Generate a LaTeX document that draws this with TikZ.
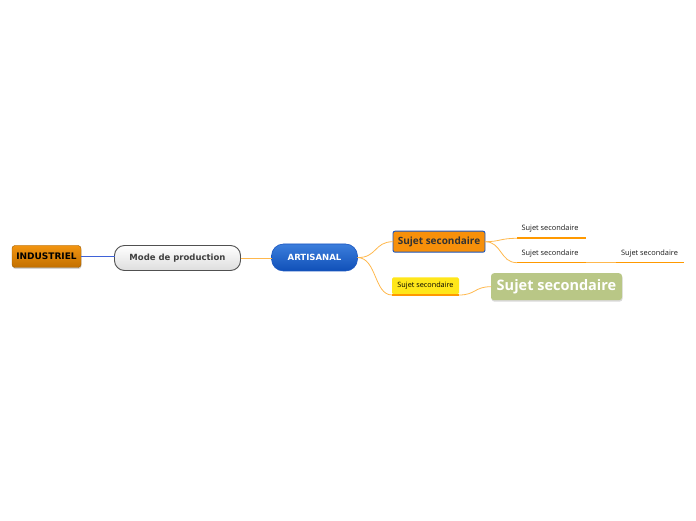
\documentclass[tikz,border=0pt]{standalone}
\usepackage{fontspec}
\newfontfamily\dvb{DejaVu Sans}
\newfontfamily\ops{Open Sans}
\usetikzlibrary{shadows}
\definecolor{linkor}{HTML}{FFB84D}
\definecolor{ulor}{HTML}{FF9900}
\definecolor{indtop}{HTML}{F29410}
\definecolor{indbot}{HTML}{C27000}
\definecolor{bluetop}{HTML}{3C7EDC}
\definecolor{bluebot}{HTML}{1050B8}
\definecolor{blueedge}{HTML}{1A56C0}
\definecolor{greybord}{HTML}{505050}
\definecolor{orbox}{HTML}{F7900A}
\definecolor{yelbox}{HTML}{FFE61A}
\definecolor{grnbox}{HTML}{B9C786}
\definecolor{linkblue}{HTML}{3F62D8}
\tikzset{
  x=1pt,y=1pt,
  box/.style={inner sep=0pt,outer sep=0pt},
  link/.style={draw=linkor,line width=0.8pt},
  uline/.style={draw=ulor,line width=1.6pt},
  small/.style={font=\ops\fontsize{7.4}{8}\selectfont,text=black!90,inner sep=0pt},
}
\begin{document}
\begin{tikzpicture}
\useasboundingbox (0,0) rectangle (696,520);
% INDUSTRIEL
\node[box,minimum width=69pt,minimum height=22pt,rounded corners=3pt,
  top color=indtop,bottom color=indbot,draw=indbot!80!black,line width=0.4pt,
  drop shadow={shadow xshift=0.5pt,shadow yshift=-1.5pt,opacity=0.35},
  font=\dvb\bfseries\fontsize{9}{10}\selectfont,text=black] (ind) at (46.5,263.5) {INDUSTRIEL};
% Mode de production
\node[box,minimum width=126pt,minimum height=25pt,rounded corners=10pt,
  top color=white,bottom color=black!13,draw=greybord,line width=0.9pt,
  font=\dvb\bfseries\fontsize{8.5}{10}\selectfont,text=black!75] (mode) at (177.5,262) {Mode de production};
% ARTISANAL
\node[box,minimum width=86pt,minimum height=27pt,rounded corners=12pt,
  top color=bluetop,bottom color=bluebot,draw=blueedge,line width=0.6pt,
  font=\dvb\bfseries\fontsize{8.5}{10}\selectfont,text=white] (art) at (314.5,262.5) {ARTISANAL};
% links
\draw[draw=linkblue,line width=0.8pt] (ind.east) -- (ind.east -| mode.west);
\draw[link] (mode.east) -- (mode.east -| art.west);
% Sujet secondaire orange box
\node[box,minimum width=92pt,minimum height=21pt,rounded corners=2pt,
  fill=orbox,draw=blueedge,line width=0.9pt,
  font=\ops\bfseries\fontsize{10}{12}\selectfont,text=black!80] (s1) at (439,278.3) {Sujet secondaire};
% yellow box
\node[box,minimum width=67pt,minimum height=17pt,rounded corners=1.5pt,
  fill=yelbox,font=\ops\fontsize{7.3}{8}\selectfont,text=black] (s2) at (425.5,234.2) {Sujet secondaire};
\coordinate (s2a) at (392,225);
\coordinate (s2b) at (459,225);
\draw[uline] (s2a) -- (s2b);
% green box
\node[box,minimum width=131pt,minimum height=27pt,rounded corners=3pt,
  fill=grnbox,drop shadow={shadow xshift=0.5pt,shadow yshift=-1.5pt,opacity=0.3},
  font=\ops\bfseries\fontsize{14.5}{16}\selectfont,text=white] (g) at (556.5,233.3) {Sujet secondaire};
% sub-topics of orange box
\node[small] (t1) at (550,291) {Sujet secondaire};
\coordinate (u1a) at (517,281.7);
\coordinate (u1b) at (586,281.7);
\draw[uline] (u1a) -- (u1b);
\node[small] (t2) at (550,266.7) {Sujet secondaire};
\coordinate (u2a) at (517,257.3);
\coordinate (u2b) at (586,257.3);
\draw[uline] (u2a) -- (u2b);
\node[small] (t3) at (649.5,266.7) {Sujet secondaire};
\coordinate (u3a) at (616,257.3);
\coordinate (u3b) at (684,257.3);
\draw[uline] (u3a) -- (u3b);
% curved links
\draw[link] (art.east) .. controls (377,262) and (374,278.3) .. (s1.west);
\draw[link] (art.east) .. controls (377,262) and (374,225) .. (s2a);
\draw[link] (s1.east) .. controls (500,278.3) and (500,281.7) .. (u1a);
\draw[link] (s1.east) .. controls (502,278.3) and (500,257.3) .. (u2a);
\draw[link] (u2b) -- (u3a);
\draw[link] (s2b) .. controls (476,225) and (474,233.3) .. (g.west);
\end{tikzpicture}
\end{document}
